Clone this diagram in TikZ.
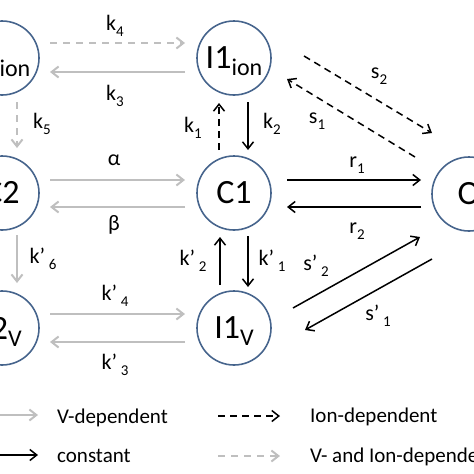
\documentclass[tikz,border=0pt]{standalone}
\usepackage{fontspec}
\setmainfont{Carlito}
\usetikzlibrary{arrows.meta,calc}
\definecolor{circ}{RGB}{70,100,140}
\definecolor{lgray}{RGB}{191,191,191}
\newcommand{\nsub}[1]{\raisebox{-7pt}[0pt][0pt]{\fontsize{24}{24}\selectfont #1}}
\newcommand{\lsub}[1]{\raisebox{-6pt}[0pt][0pt]{\fontsize{15}{15}\selectfont #1}}
\begin{document}
\begin{tikzpicture}[x=1pt,y=-1pt,
  chan/.style={circle,draw=circ,line width=1.6pt,minimum size=74pt,inner sep=0pt,font=\fontsize{34}{34}\selectfont},
  lab/.style={anchor=base,inner sep=0pt,font=\fontsize{22}{22}\selectfont},
  arrowhd/.style={-{Straight Barb[length=7pt,width=11pt]}},
  vdep/.style={arrowhd,draw=lgray,line width=2pt},
  cons/.style={arrowhd,draw=black,line width=1.5pt},
  idep/.style={arrowhd,draw=black,line width=1.5pt,dash pattern=on 7pt off 5pt},
  videp/.style={arrowhd,draw=lgray,line width=2pt,dash pattern=on 7pt off 6pt},
  legtxt/.style={anchor=base west,inner sep=0pt,font=\fontsize{21}{21}\selectfont}]
\useasboundingbox (0,0) rectangle (474,474);
\clip (0,0) rectangle (474,474);
% states
\node[chan] (I2ion) at (2,58) {I2\nsub{ion}};
\node[chan] (I1ion) at (234,58) {I1\nsub{ion}};
\node[chan] (C2) at (2,193) {C2};
\node[chan] (C1) at (234,193) {C1};
\node[chan] (O) at (469,194) {O};
\node[chan] (I2V) at (2,328) {I2\nsub{V}};
\node[chan] (I1V) at (234,328) {I1\nsub{V}};
% row 1
\draw[videp] ($(I2ion.center)+(48,-15)$) -- ($(I1ion.center)+(-49,-15)$);
\draw[vdep] ($(I1ion.center)+(-49,14)$) -- ($(I2ion.center)+(48,14)$);
% row 2
\draw[vdep] ($(C2.center)+(48,-13)$) -- ($(C1.center)+(-49,-13)$);
\draw[vdep] ($(C1.center)+(-49,14)$) -- ($(C2.center)+(48,14)$);
\draw[cons] ($(C1.center)+(53,-13)$) -- ($(O.center)+(-48,-14)$);
\draw[cons] ($(O.center)+(-48,13)$) -- ($(C1.center)+(53,14)$);
% row 3
\draw[vdep] ($(I2V.center)+(48,-14)$) -- ($(I1V.center)+(-49,-14)$);
\draw[vdep] ($(I1V.center)+(-49,14)$) -- ($(I2V.center)+(48,14)$);
% verticals
\draw[videp] ($(I2ion.center)+(15,44)$) -- ($(C2.center)+(15,-45)$);
\draw[vdep] ($(C2.center)+(15,42)$) -- ($(I2V.center)+(15,-45)$);
\draw[idep] ($(C1.center)+(-15,-43)$) -- ($(I1ion.center)+(-15,45)$);
\draw[cons] ($(I1ion.center)+(14,44)$) -- ($(C1.center)+(14,-43)$);
\draw[cons] ($(I1V.center)+(-14,-43)$) -- ($(C1.center)+(-14,44)$);
\draw[cons] ($(C1.center)+(14,43)$) -- ($(I1V.center)+(14,-41)$);
% diagonals
\draw[idep] ($(I1ion.center)+(70,-2)$) -- ($(O.center)+(-37,-61)$);
\draw[idep] ($(O.center)+(-54,-37)$) -- ($(I1ion.center)+(53,21)$);
\draw[cons] ($(I1V.center)+(59,-20)$) -- ($(O.center)+(-49,43)$);
\draw[cons] ($(O.center)+(-37,65)$) -- ($(I1V.center)+(71,2)$);
% labels
\node[lab] (Lk4) at (115,30) {k\lsub{4}};
\node[lab] (Lk3) at (115,100) {k\lsub{3}};
\node[lab] (Lk5) at (42,128) {k\lsub{5}};
\node[lab] (Lal) at (114,165) {α};
\node[lab] (Lbe) at (114,230) {β};
\node[lab] (Lk1) at (193,132) {k\lsub{1}};
\node[lab] (Lk2) at (272,128) {k\lsub{2}};
\node[lab] (Lr1) at (357,167) {r\lsub{1}};
\node[lab] (Lr2) at (357,233) {r\lsub{2}};
\node[lab] (Ls2) at (379,78) {s\lsub{2}};
\node[lab] (Ls1) at (317,123) {s\lsub{1}};
\node[lab] (Lkp6) at (43,263) {k’\,\lsub{6}};
\node[lab] (Lkp2) at (193,265) {k’\,\lsub{2}};
\node[lab] (Lkp1) at (272,265) {k’\,\lsub{1}};
\node[lab] (Lsp2) at (316,270) {s’\,\lsub{2}};
\node[lab] (Lsp1) at (378,320) {s’\,\lsub{1}};
\node[lab] (Lkp4) at (115,300) {k’\,\lsub{4}};
\node[lab] (Lkp3) at (115,369) {k’\,\lsub{3}};
% legend
\coordinate (la1) at (-30,415); \coordinate (lb1) at (38,415);
\coordinate (la2) at (-30,455); \coordinate (lb2) at (38,455);
\coordinate (lc1) at (218,416); \coordinate (ld1) at (280,416);
\coordinate (lc2) at (218,456); \coordinate (ld2) at (280,456);
\draw[vdep] (la1) -- (lb1);
\draw[cons] (la2) -- (lb2);
\draw[idep] (lc1) -- (ld1);
\draw[videp] (lc2) -- (ld2);
\node[legtxt] (T1) at (57,423) {V-dependent};
\node[legtxt] (T2) at (57,462) {constant};
\node[legtxt] (T3) at (310,422) {Ion-dependent};
\node[legtxt] (T4) at (310,462) {V- and Ion-dependent};
\end{tikzpicture}
\end{document}
